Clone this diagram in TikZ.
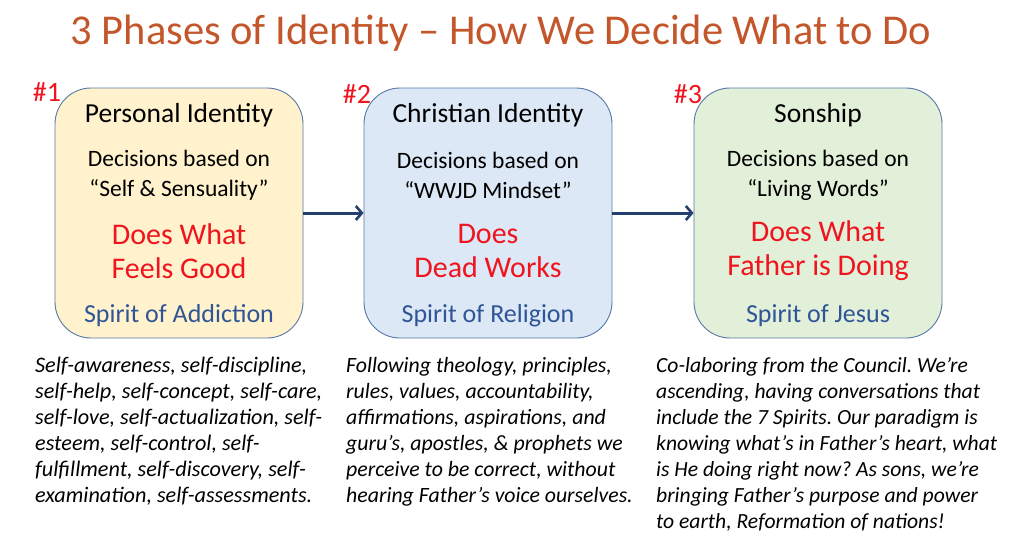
\documentclass[tikz,border=0pt]{standalone}
\usepackage{fontspec}
\setmainfont{Carlito}
\usetikzlibrary{arrows.meta}
\definecolor{titlec}{HTML}{C4562B}
\definecolor{redc}{HTML}{F0141E}
\definecolor{bluec}{HTML}{2F5597}
\definecolor{edgec}{HTML}{5878A8}
\definecolor{arrc}{HTML}{24406E}
\definecolor{yelc}{HTML}{FFF2CC}
\definecolor{bluf}{HTML}{DCE8F5}
\definecolor{grnf}{HTML}{E2EFD9}
\frenchspacing
\tikzset{
  phase/.style={draw=edgec, line width=0.9pt, rounded corners=36pt, minimum width=248pt, minimum height=250pt, inner sep=0pt},
  headt/.style={font=\fontsize{27.5}{30}\selectfont, text=black},
  dect/.style={font=\fontsize{23.5}{30}\selectfont, text=black, align=center},
  doest/.style={font=\fontsize{30}{34}\selectfont, text=redc, align=center},
  spirt/.style={font=\fontsize{26}{28}\selectfont, text=bluec},
  numt/.style={font=\fontsize{28}{28}\selectfont, text=redc},
  bodyt/.style={font=\fontsize{21.8}{26}\selectfont\itshape, text=black, align=left, anchor=north west, inner sep=0pt},
  arr/.style={draw=arrc, line width=3pt, -{Straight Barb[length=6pt,width=14pt,line width=2.6pt]}}
}
\begin{document}
\begin{tikzpicture}[x=1pt,y=-1pt]
\useasboundingbox (0,0) rectangle (1024,558);
\fill[white] (0,0) rectangle (1024,558);

\node[font=\fontsize{42.5}{46}\selectfont, text=titlec] (title) at (501,33) {3 Phases of Identity – How We Decide What to Do};

\node[phase, fill=yelc] (b1) at (179,213) {};
\node[phase, fill=bluf] (b2) at (488,213) {};
\node[phase, fill=grnf] (b3) at (818,213) {};

\draw[arr] (b1.east) -- (b2.west);
\draw[arr] (b2.east) -- (b3.west);

\node[numt] (n1) at (47,92) {\#1};
\node[numt] (n2) at (357,94) {\#2};
\node[numt] (n3) at (688,94) {\#3};

\node[headt] (h1) at (179,115) {Personal Identity};
\node[headt] (h2) at (488,115) {Christian Identity};
\node[headt] (h3) at (818,115) {Sonship};

\node[dect] (d1) at (179,175) {Decisions based on\\“Self \& Sensuality”};
\node[dect] (d2) at (488,175) {Decisions based on\\“WWJD Mindset”};
\node[dect] (d3) at (818,175) {Decisions based on\\“Living Words”};

\node[doest] (w1) at (179,251) {Does What\\Feels Good};
\node[doest] (w2) at (488,251) {Does\\Dead Works};
\node[doest] (w3) at (818,251) {Does What\\Father is Doing};

\node[spirt] (s1) at (179,316) {Spirit of Addiction};
\node[spirt] (s2) at (488,316) {Spirit of Religion};
\node[spirt] (s3) at (818,316) {Spirit of Jesus};

\node[bodyt, font=\fontsize{22.2}{26}\selectfont\itshape] (t1) at (35,357) {Self-awareness, self-discipline,\\self-help, self-concept, self-care,\\self-love, self-actualization, self-\\esteem, self-control, self-\\fulfillment, self-discovery, self-\\examination, self-assessments.};
\node[bodyt] (t2) at (346,357) {Following theology, principles,\\rules, values, accountability,\\affirmations, aspirations, and\\guru’s, apostles, \& prophets we\\perceive to be correct, without\\hearing Father’s voice ourselves.};
\node[bodyt, font=\fontsize{21.6}{26}\selectfont\itshape] (t3) at (656,357) {Co-laboring from the Council. We’re\\ascending, having conversations that\\include the 7 Spirits. Our paradigm is\\knowing what’s in Father’s heart, what\\is He doing right now? As sons, we’re\\bringing Father’s purpose and power\\to earth, Reformation of nations!};
\end{tikzpicture}
\end{document}
